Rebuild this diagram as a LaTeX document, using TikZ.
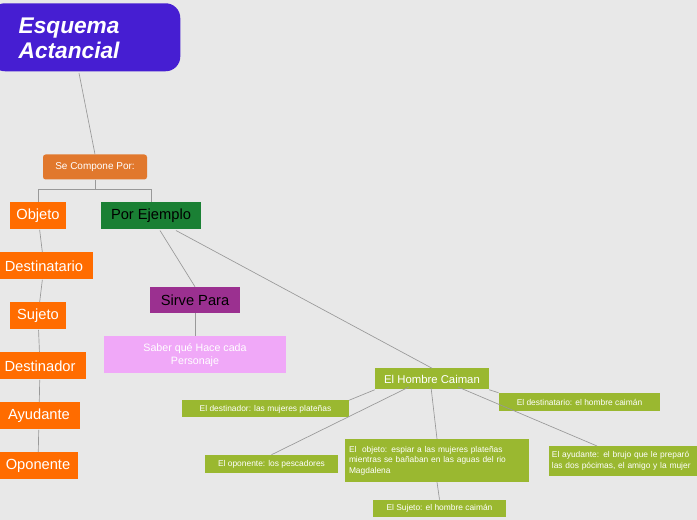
\documentclass[tikz,border=0pt]{standalone}
\usepackage{fontspec}
\setmainfont{Liberation Sans}
\begin{document}
\begin{tikzpicture}[x=0.75pt,y=-0.75pt,
  box/.style={inner sep=0pt,align=center,text=white,drop shadow/.style={}},
  ln/.style={draw=gray!80,line width=0.5pt},
  oranb/.style={box,fill=orange!85!red,minimum width=#1*0.75pt,minimum height=20.25pt,font=\fontsize{11}{13}\selectfont},
  oliv/.style={box,fill={rgb,255:red,154;green,184;blue,48},font=\fontsize{6.3}{8}\selectfont}]
\definecolor{bg}{RGB}{232,232,232}
\path[use as bounding box,fill=bg] (0,0) rectangle (697,520);
\clip (0,0) rectangle (697,520);
% connectors
\coordinate (tb) at (79,73);
\node[box,anchor=north west,fill={rgb,255:red,70;green,30;blue,210},rounded corners=11pt,minimum width=142.5pt,minimum height=51pt] (title) at (-10,3) {};
\node[anchor=west,text=white,font=\fontsize{17}{19}\selectfont\bfseries\itshape,align=left] (tt) at (14,38) {Esquema\\Actancial};
\node[box,fill={rgb,255:red,225;green,120;blue,45},rounded corners=2pt,minimum width=78pt,minimum height=18.75pt,font=\fontsize{7.5}{9}\selectfont] (sc) at (95,167) {Se Compone Por:};
\node[oranb=56] (ob) at (38,216) {Objeto};
\node[oranb=98] (de) at (44,266) {Destinatario};
\node[oranb=56] (su) at (38,316) {Sujeto};
\node[oranb=91] (dn) at (40,366) {Destinador};
\node[oranb=82] (ay) at (39,416) {Ayudante};
\node[oranb=80] (op) at (38,466) {Oponente};
\node[box,text=black,fill={rgb,255:red,26;green,128;blue,52},minimum width=75pt,minimum height=20.25pt,font=\fontsize{11}{13}\selectfont] (pe) at (151,216) {Por Ejemplo};
\node[box,text=black,fill={rgb,255:red,155;green,48;blue,144},minimum width=67.5pt,minimum height=19.5pt,font=\fontsize{11}{13}\selectfont] (sp) at (195,300) {Sirve Para};
\node[box,fill={rgb,255:red,240;green,168;blue,248},minimum width=137pt,minimum height=27.75pt,font=\fontsize{8}{10}\selectfont] (sa) at (195,355) {Saber qué Hace cada\\Personaje};
\node[oliv,minimum width=85.5pt,minimum height=15.75pt,font=\fontsize{8.5}{10}\selectfont] (hc) at (432,379) {El Hombre Caiman};
\node[oliv,minimum width=125pt,minimum height=12.75pt] (d1) at (265.5,409) {El destinador: las mujeres plateñas};
\node[oliv,minimum width=121pt,minimum height=13.5pt] (d2) at (579.5,402) {El destinatario: el hombre caimán};
\node[oliv,minimum width=100pt,minimum height=13.5pt] (d3) at (271.5,464) {El oponente: los pescadores};
\node[oliv,minimum width=138pt,minimum height=32pt,align=left,text width=132pt] (d4) at (437,460.5) {El \ objeto: espiar a las mujeres plateñas mientras se bañaban en las aguas del rio Magdalena};
\node[oliv,anchor=north west,minimum width=130pt,minimum height=22pt,align=left,text width=130pt] (d5) at (549,446) {\hspace*{2pt}El ayudante: el brujo que le preparó\\\hspace*{2pt}las dos pócimas, el amigo y la mujer};
\node[oliv,minimum width=100pt,minimum height=13pt] (d6) at (439.5,508.5) {El Sujeto: el hombre caimán};
\begin{scope}[on background layer/.style={}]
\end{scope}
% lines (drawn; nodes cover ends)
\draw[ln] (tb) -- (sc.north);
\draw[ln] (sc.south) -- ++(0,10) coordinate (j);
\draw[ln] (ob.north) |- (j) -| (pe.north);
\draw[ln] (ob) -- (de); \draw[ln] (de) -- (su); \draw[ln] (su) -- (dn);
\draw[ln] (dn) -- (ay); \draw[ln] (ay) -- (op);
\draw[ln] (160,230.5) -- (sp.north);
\draw[ln] (176,230.5) -- (hc.north);
\draw[ln] (sp.south) -- (sa.north);
\draw[ln] (hc.south west) -- (d1.north east);
\draw[ln] (hc.south east) -- (d2.north west);
\draw[ln] (409,387) -- (d3.north);
\draw[ln] (431,387) -- (d4.north);
\draw[ln] (458,387) -- (597,446);
\draw[ln] (d4.south) -- (d6.north);
\end{tikzpicture}
\end{document}
